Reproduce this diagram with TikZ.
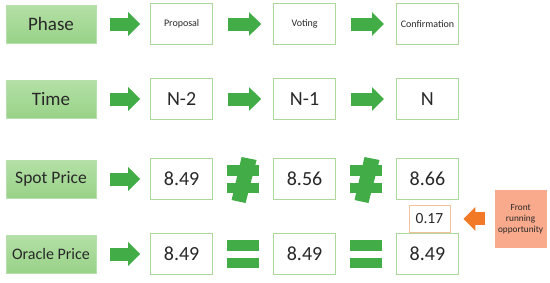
\documentclass[tikz,border=0pt]{standalone}
\usepackage{fontspec}
\setmainfont{Carlito}
\usepackage{tikz}
\usetikzlibrary{positioning, arrows.meta, calc}
\definecolor{leafgreen}{RGB}{66,172,70}
\definecolor{boxgreen}{RGB}{172,216,156}
\definecolor{tagtop}{RGB}{180,224,166}
\definecolor{tagbot}{RGB}{152,210,136}
\definecolor{flame}{RGB}{242,122,38}
\definecolor{salmon}{RGB}{250,170,140}
\definecolor{peach}{RGB}{246,192,156}
\definecolor{inkgray}{RGB}{40,40,40}
\tikzset{
    rowtag/.style={rectangle, draw=tagbot!70, top color=tagtop, bottom color=tagbot, minimum width=90pt, minimum height=38pt, inner sep=0pt, text=inkgray, font=\fontsize{#1}{#1}\selectfont},
    valbox/.style={rectangle, draw=boxgreen, fill=white, line width=0.9pt, minimum width=62pt, minimum height=41pt, inner sep=0pt, text=inkgray, font=\fontsize{#1}{#1}\selectfont},
    fatlink/.style={draw=#1, line width=13pt, -{Triangle[length=12pt, width=23pt]}},
    eqsign/.pic={
        \fill[leafgreen] (-16,3) rectangle (16,14);
        \fill[leafgreen] (-16,-3.5) rectangle (16,-14);
    },
    neqsign/.pic={
        \fill[leafgreen] (-16,3) rectangle (16,14);
        \fill[leafgreen] (-16,-4) rectangle (16,-14);
        \fill[leafgreen] (-1.5,22) -- (13.5,19) -- (2.5,-24) -- (-11.5,-21) -- cycle;
    }
}

\begin{document}
\begin{tikzpicture}[x=1pt, y=1pt]
\useasboundingbox (0,0) rectangle (550,-282);

% row labels
\node[rowtag=19] (phase) at (51,-24) {Phase};
\node[rowtag=19] (time) at (51,-99) {Time};
\node[rowtag=17.5] (spot) at (51,-179) {Spot Price};
\node[rowtag=16] (oracle) at (51,-254) {Oracle Price};

% phase row
\node[valbox=10, right=54pt of phase] (prop) {Proposal};
\node[valbox=10, right=60pt of prop] (vote) {Voting};
\node[valbox=10, right=60pt of vote] (conf) {Confirmation};

% time row
\node[valbox=20, right=54pt of time] (tm2) {N-2};
\node[valbox=20, right=60pt of tm2] (tm1) {N-1};
\node[valbox=20, right=60pt of tm1] (tn) {N};

% spot row
\node[valbox=20, right=54pt of spot] (sp1) {8.49};
\node[valbox=20, right=60pt of sp1] (sp2) {8.56};
\node[valbox=20, right=60pt of sp2] (sp3) {8.66};

% oracle row
\node[valbox=20, right=54pt of oracle] (or1) {8.49};
\node[valbox=20, right=60pt of or1] (or2) {8.49};
\node[valbox=20, right=60pt of or2] (or3) {8.49};

% gap and note
\node[rectangle, draw=peach, fill=white, line width=0.9pt, minimum width=41pt, minimum height=27pt, inner sep=0pt, text=inkgray, font=\fontsize{15.5}{15.5}\selectfont, below=5pt of sp3, xshift=2pt] (gap) {0.17};
\node[rectangle, fill=salmon, minimum width=52pt, minimum height=58pt, inner sep=0pt, align=center, text=inkgray, font=\fontsize{9.3}{11}\selectfont, right=44pt of gap] (front) {Front\\running\\opportunity};

% arrows
\foreach \a/\b in {phase/prop, time/tm2, spot/sp1, oracle/or1}
    \draw[fatlink=leafgreen, shorten <=14pt, shorten >=10pt] (\a) -- (\b);
\foreach \a/\b in {prop/vote, vote/conf, tm2/tm1, tm1/tn}
    \draw[fatlink=leafgreen, shorten <=15pt, shorten >=12pt] (\a) -- (\b);
\draw[fatlink=flame, shorten <=9pt, shorten >=13pt] (front) -- (gap);

% comparison signs
\pic at ($(sp1)!0.5!(sp2)$) {neqsign};
\pic at ($(sp2)!0.5!(sp3)$) {neqsign};
\pic at ($(or1)!0.5!(or2)$) {eqsign};
\pic at ($(or2)!0.5!(or3)$) {eqsign};

\end{tikzpicture}
\end{document}
